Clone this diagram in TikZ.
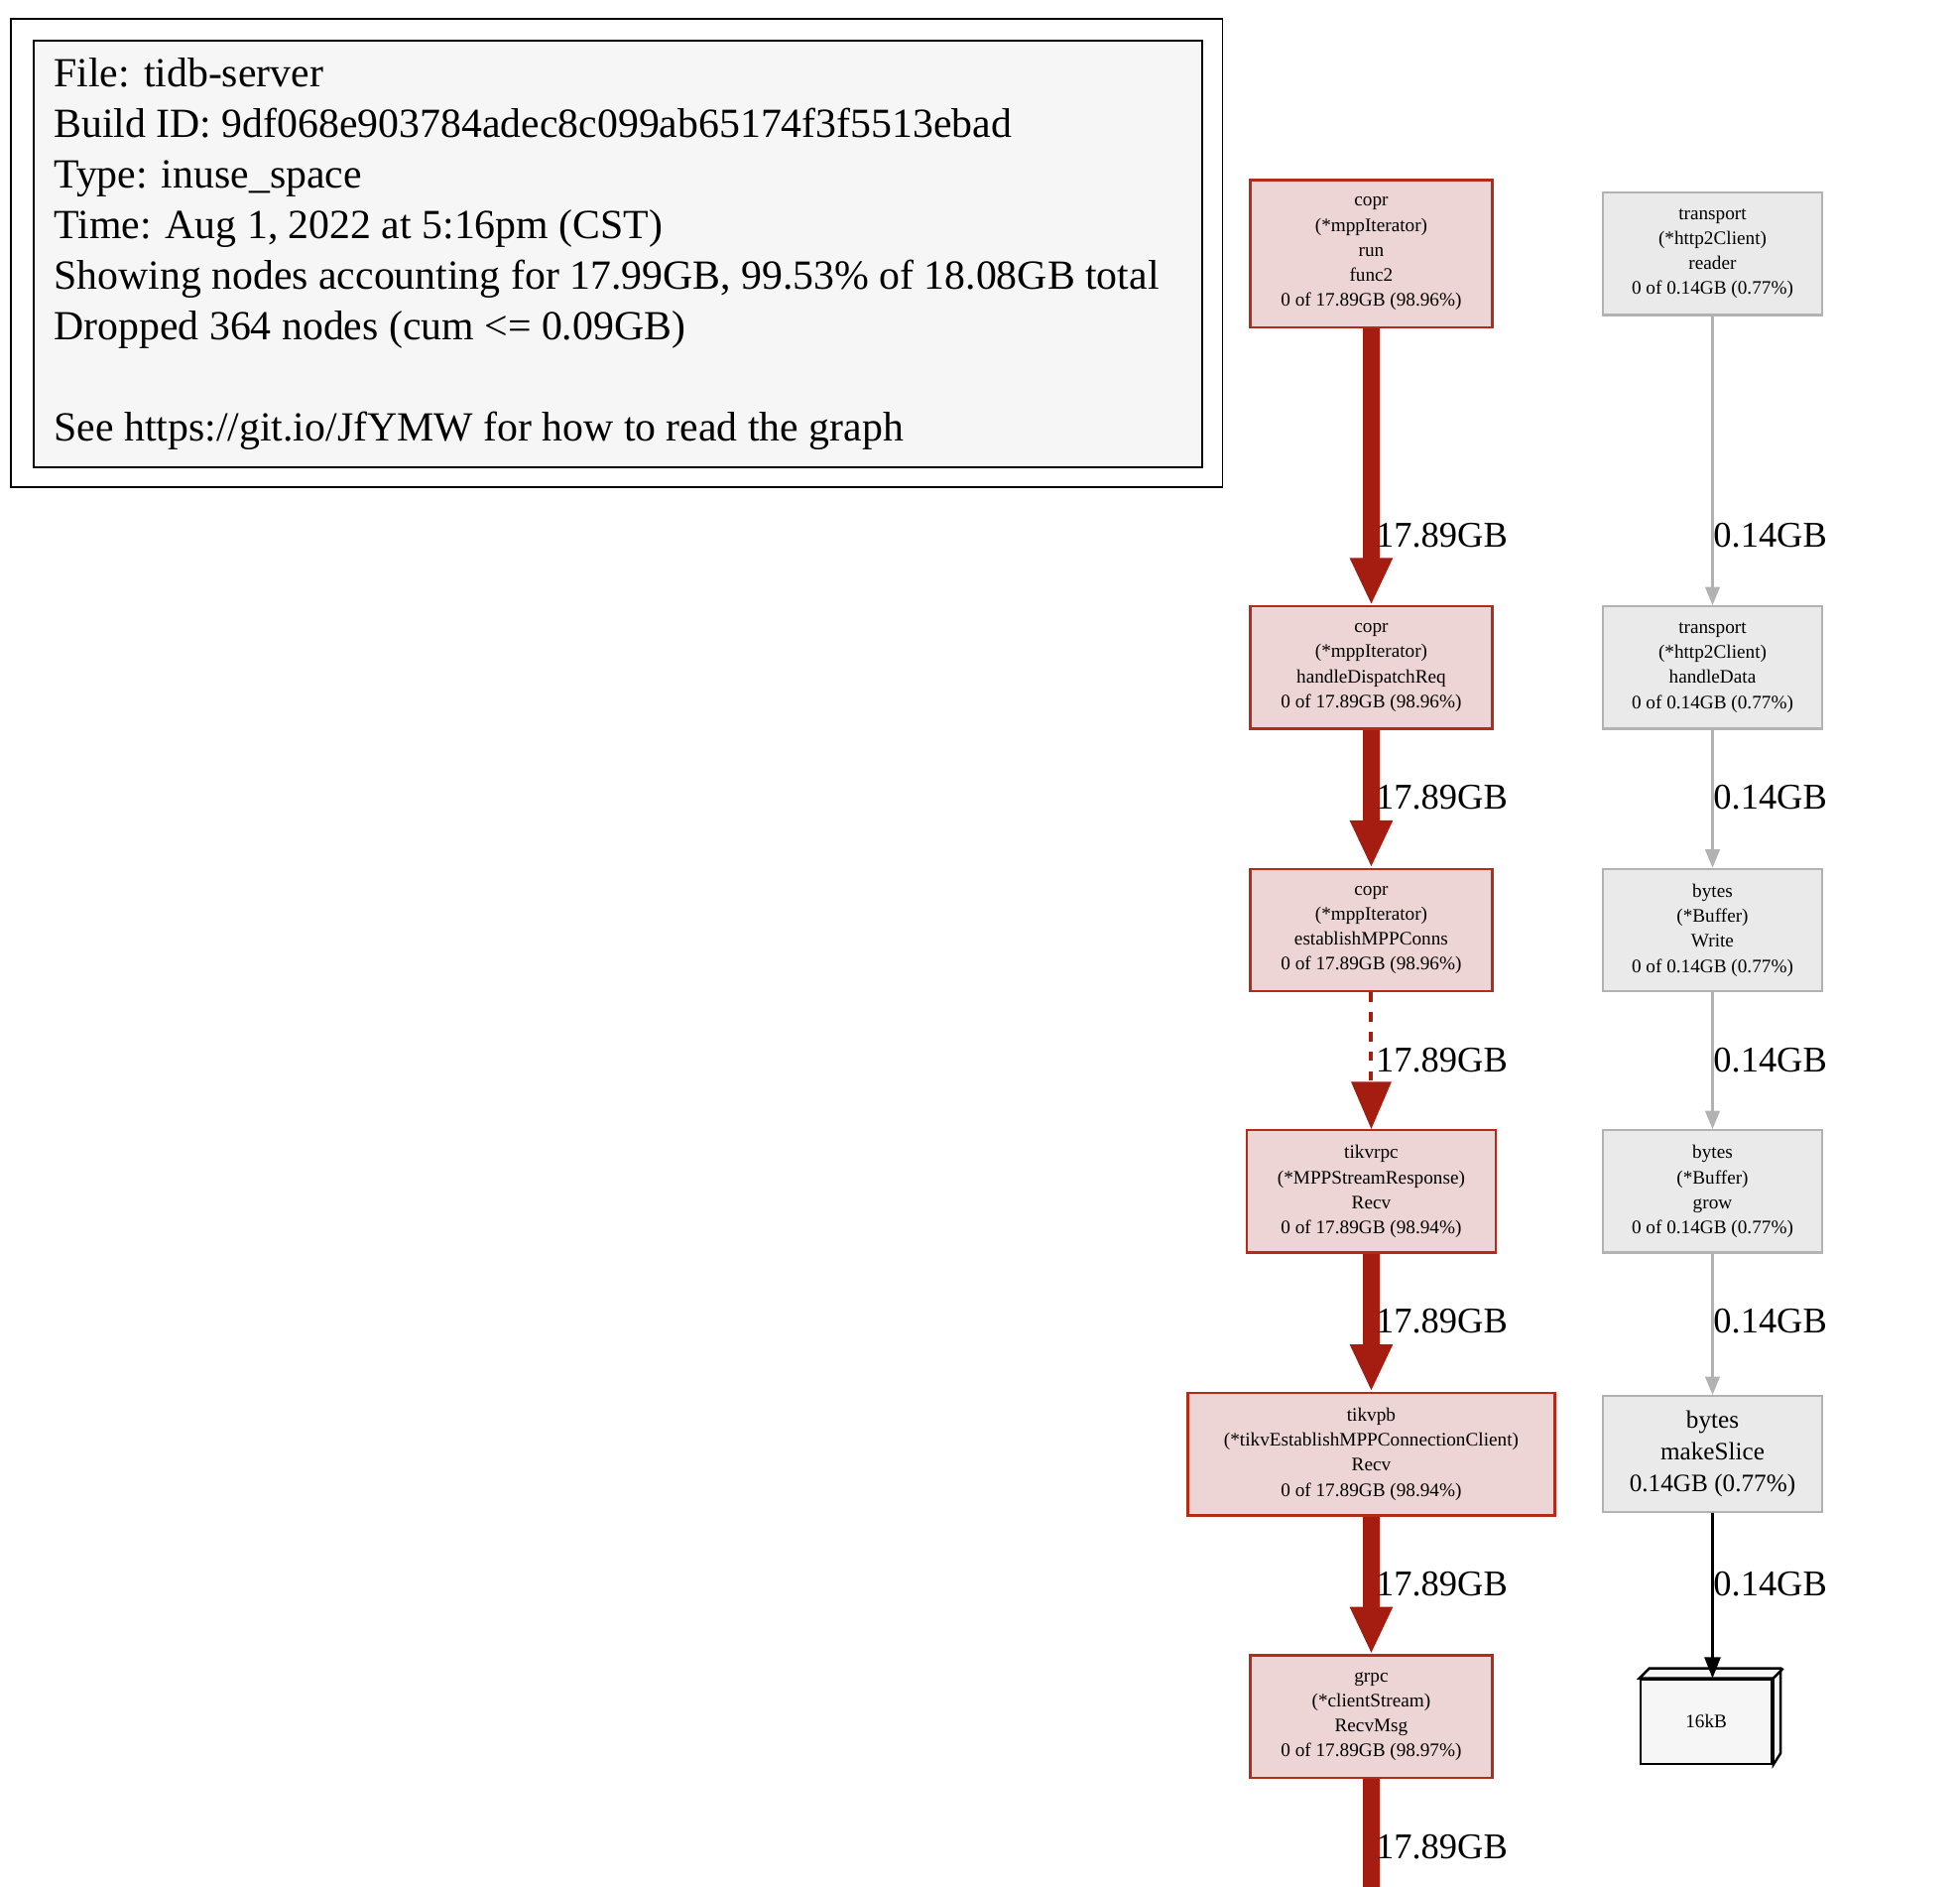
\documentclass[tikz,border=0pt]{standalone}
\usepackage{fontspec}
\setmainfont{Liberation Serif}
\usetikzlibrary{arrows.meta}
\definecolor{rfill}{HTML}{EDD5D5}
\definecolor{rline}{HTML}{B22C1A}
\definecolor{redge}{HTML}{A51D10}
\definecolor{gfill}{HTML}{EAEAEA}
\definecolor{gline}{HTML}{B2B2B2}
\definecolor{kfill}{HTML}{F6F6F6}
\begin{document}
\begin{tikzpicture}[x=0.95pt,y=-0.95pt,
  rn/.style={draw=rline,fill=rfill,line width=1.8pt,align=center,font=\fontsize{14.5}{19}\selectfont,inner sep=0pt,minimum height=93pt},
  gn/.style={draw=gline,fill=gfill,line width=1.8pt,align=center,font=\fontsize{14.5}{19}\selectfont,inner sep=0pt,minimum height=93pt,minimum width=167pt},
  re/.style={draw=redge,line width=13pt,-{Triangle[length=36pt,width=30pt]}},
  ge/.style={draw=gline,line width=2pt,-{Triangle[length=14pt,width=11pt]}},
  lab/.style={font=\fontsize{27.5}{30}\selectfont,anchor=west}]
\useasboundingbox (0,0) rectangle (1568,1509);
% legend
\draw[line width=1.5pt] (9,15) rectangle (978,390);
\node[draw,line width=1.5pt,fill=kfill,minimum width=888pt,minimum height=324pt,anchor=north west,inner sep=0pt] (leg) at (26,32) {};
\node[anchor=north west,align=left,font=\fontsize{31.5}{38.5}\selectfont,inner sep=0pt] (legt) at (43,46) {File: tidb-server\\Build ID: 9df068e903784adec8c099ab65174f3f5513ebad\\Type: inuse\_space\\Time: Aug 1, 2022 at 5:16pm (CST)\\Showing nodes accounting for 17.99GB, 99.53\% of 18.08GB total\\Dropped 364 nodes (cum <= 0.09GB)\\[38.5pt]See https://git.io/JfYMW for how to read the graph};
% red column
\node[rn,minimum width=184pt,minimum height=112pt] (n1) at (1097,203) {copr\\(*mppIterator)\\run\\func2\\0 of 17.89GB (98.96\%)};
\node[rn,minimum width=184pt] (n2) at (1097,534) {copr\\(*mppIterator)\\handleDispatchReq\\0 of 17.89GB (98.96\%)};
\node[rn,minimum width=184pt] (n3) at (1097,744) {copr\\(*mppIterator)\\establishMPPConns\\0 of 17.89GB (98.96\%)};
\node[rn,minimum width=189pt] (n4) at (1097,953) {tikvrpc\\(*MPPStreamResponse)\\Recv\\0 of 17.89GB (98.94\%)};
\node[rn,minimum width=279pt] (n5) at (1097,1163) {tikvpb\\(*tikvEstablishMPPConnectionClient)\\Recv\\0 of 17.89GB (98.94\%)};
\node[rn,minimum width=184pt] (n6) at (1097,1373) {grpc\\(*clientStream)\\RecvMsg\\0 of 17.89GB (98.97\%)};
\coordinate (bot) at (1097,1509);
\draw[re] (n1) -- (n2);
\draw[re] (n2) -- (n3);
\draw[draw=redge,line width=3pt,dash pattern=on 7pt off 8pt,-{Triangle[length=36pt,width=30pt]}] (n3) -- (n4);
\draw[re] (n4) -- (n5);
\draw[re] (n5) -- (n6);
\draw[draw=redge,line width=13pt] (n6) -- (bot);
\foreach \y in {428,638,848,1057,1267,1477} \node[lab] at (1097,\y) {17.89GB};
% gray column
\node[gn] (t1) at (1370,203) {transport\\(*http2Client)\\reader\\0 of 0.14GB (0.77\%)};
\node[gn] (t2) at (1370,534) {transport\\(*http2Client)\\handleData\\0 of 0.14GB (0.77\%)};
\node[gn] (b1) at (1370,744) {bytes\\(*Buffer)\\Write\\0 of 0.14GB (0.77\%)};
\node[gn] (b2) at (1370,953) {bytes\\(*Buffer)\\grow\\0 of 0.14GB (0.77\%)};
\node[gn,minimum height=88pt,font=\fontsize{19}{24}\selectfont] (ms) at (1370,1163) {bytes\\makeSlice\\0.14GB (0.77\%)};
\node[draw,line width=1.8pt,fill=kfill,minimum width=100pt,minimum height=64pt,inner sep=0pt,font=\fontsize{14.5}{19}\selectfont] (kb) at (1365,1377) {16kB};
\draw[line width=1.8pt,fill=kfill] (kb.north west) -- ++(8,-8) -- ++(105,0) -- ++(0,68) -- (kb.south east) -- (kb.north east) -- cycle;
\draw[line width=1.8pt] (kb.north east) -- ++(8,-8);
\draw[ge] (t1) -- (t2);
\draw[ge] (t2) -- (b1);
\draw[ge] (b1) -- (b2);
\draw[ge] (b2) -- (ms);
\draw[line width=2pt,-{Triangle[length=16pt,width=12pt]}] (ms) -- (kb.north -| ms);
\foreach \y in {428,638,848,1057,1267} \node[lab] at (1367,\y) {0.14GB};
\end{tikzpicture}
\end{document}
